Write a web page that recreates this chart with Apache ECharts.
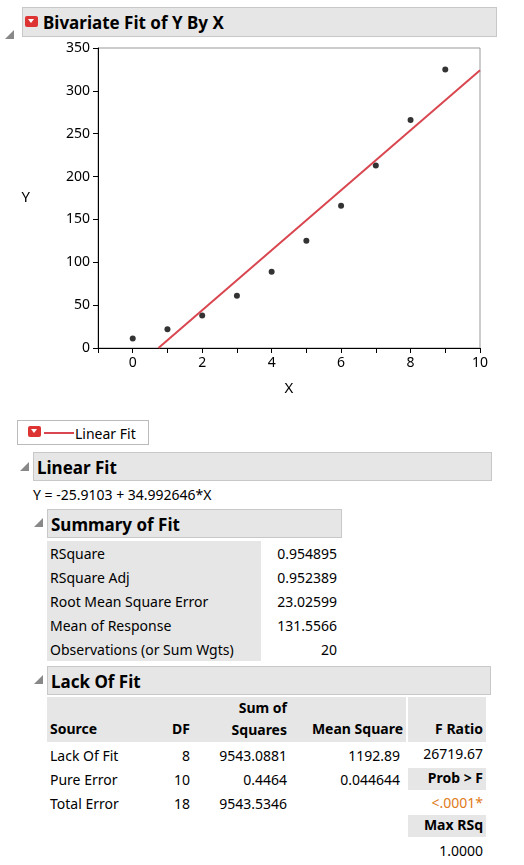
<!DOCTYPE html>
<html><head><meta charset="UTF-8">
<script src="https://cdn.jsdelivr.net/npm/echarts@6/dist/echarts.min.js"></script>
<style>
body{margin:0;background:#fff;font-family:"Noto Sans",sans-serif;font-size:14px;color:#000;}
.a{position:absolute;white-space:nowrap;}
.hdr{position:absolute;background:#e6e6e6;border:1px solid #c8c8c8;font-weight:bold;font-size:17px;box-sizing:border-box;padding:3px 0 0 3px;}
.tri{position:absolute;width:0;height:0;border-left:9px solid transparent;border-bottom:9px solid #888;}
.gray{position:absolute;background:#e6e6e6;}
.r{text-align:right;}
.ic{position:absolute;width:13px;height:11px;background:#d33;border-radius:2px;}
.ic:after{content:"";position:absolute;left:3px;top:3px;border-left:3.5px solid transparent;border-right:3.5px solid transparent;border-top:4px solid #fff;}
</style></head><body>
<div id="main" class="a" style="left:0;top:36px;width:524px;height:370px;"></div>
<script>
var xs = [0, 1, 2, 3, 4, 5, 6, 7, 8, 9];
var ys = [11, 22, 38, 61, 89, 125, 166, 213, 266, 325];
var b0 = -25.9103, b1 = 34.992646;
var fitX = [-b0 / b1, 10];
var yTicks = [0, 50, 100, 150, 200, 250, 300, 350];

var chart = echarts.init(document.getElementById('main'));
chart.setOption({
  animation: false,
  grid: {left: 98, top: 12, width: 382, height: 300},
  xAxis: {type: 'value', min: -1, max: 10, interval: 1, name: 'X', nameLocation: 'middle', nameGap: 33,
    nameTextStyle: {fontSize: 15, color: '#000', fontFamily: 'Noto Sans'},
    axisLine: {show: true, onZero: false, lineStyle: {color: '#000'}},
    axisTick: {lineStyle: {color: '#000'}},
    axisLabel: {color: '#000', fontSize: 14, fontFamily: 'Noto Sans', formatter: function (v) { return v % 2 === 0 ? v : ''; }},
    splitLine: {show: false}},
  yAxis: {type: 'value', min: 0, max: 350, interval: 50, name: 'Y', nameLocation: 'middle', nameRotate: 0, nameGap: 68,
    nameTextStyle: {fontSize: 15, color: '#000', fontFamily: 'Noto Sans', padding: [0, 0, 20, 0]},
    axisLine: {show: true, onZero: false, lineStyle: {color: '#000'}},
    axisTick: {lineStyle: {color: '#000'}},
    axisLabel: {color: '#000', fontSize: 14, fontFamily: 'Noto Sans'},
    splitLine: {show: false}},
  graphic: [{type: 'rect', shape: {x: 98, y: 12, width: 382, height: 300}, style: {fill: 'none', stroke: '#999'}, silent: true}],
  series: [
    {type: 'line', data: fitX.map(function (x) { return [x, b0 + b1 * x]; }), showSymbol: false,
      lineStyle: {color: '#d9464f', width: 2}},
    {type: 'scatter', data: xs.map(function (x, i) { return [x, ys[i]]; }), symbolSize: 6, itemStyle: {color: '#000'}}
  ]
});
</script>

<div class="tri" style="left:5px;top:30px;"></div>
<div class="hdr" style="left:22px;top:7px;width:475px;height:30px;padding-left:20px;">Bivariate Fit of Y By X</div>
<div class="ic" style="left:25px;top:16px;"></div>

<div class="a" style="left:17px;top:420px;width:132px;height:25px;border:1px solid #bbb;box-sizing:border-box;"></div>
<div class="ic" style="left:28px;top:426px;"></div>
<div class="a" style="left:44px;top:432px;width:30px;height:2px;background:#d9464f;"></div>
<div class="a" style="left:75px;top:424px;">Linear Fit</div>

<div class="tri" style="left:20px;top:462px;"></div>
<div class="hdr" style="left:33px;top:452px;width:459px;height:29px;">Linear Fit</div>
<div class="a" style="left:33px;top:485px;">Y = -25.9103 + 34.992646*X</div>

<div class="tri" style="left:34px;top:518px;"></div>
<div class="hdr" style="left:47px;top:509px;width:295px;height:29px;">Summary of Fit</div>
<div class="gray" style="left:47px;top:541px;width:214px;height:120px;"></div>
<div class="a" style="left:50px;top:542px;line-height:24px;">RSquare<br>RSquare Adj<br>Root Mean Square Error<br>Mean of Response<br>Observations (or Sum Wgts)</div>
<div class="a r" style="left:262px;top:542px;width:75px;line-height:24px;">0.954895<br>0.952389<br>23.02599<br>131.5566<br>20</div>

<div class="tri" style="left:34px;top:675px;"></div>
<div class="hdr" style="left:47px;top:666px;width:444px;height:29px;">Lack Of Fit</div>
<div class="gray" style="left:47px;top:697px;width:359px;height:45px;"></div>
<div class="gray" style="left:408px;top:697px;width:78px;height:45px;"></div>
<div class="a" style="left:50px;top:719px;font-weight:bold;">Source</div>
<div class="a r" style="left:150px;top:719px;width:40px;font-weight:bold;">DF</div>
<div class="a r" style="left:200px;top:697px;width:87px;font-weight:bold;line-height:22px;">Sum of<br>Squares</div>
<div class="a r" style="left:290px;top:719px;width:113px;font-weight:bold;">Mean Square</div>
<div class="a r" style="left:408px;top:719px;width:75px;font-weight:bold;">F Ratio</div>
<div class="a" style="left:50px;top:744px;line-height:24px;">Lack Of Fit<br>Pure Error<br>Total Error</div>
<div class="a r" style="left:150px;top:744px;width:40px;line-height:24px;">8<br>10<br>18</div>
<div class="a r" style="left:200px;top:744px;width:87px;line-height:24px;">9543.0881<br>0.4464<br>9543.5346</div>
<div class="a r" style="left:290px;top:744px;width:110px;line-height:24px;">1192.89<br>0.044644</div>
<div class="a r" style="left:408px;top:744px;width:75px;">26719.67</div>
<div class="gray" style="left:408px;top:768px;width:78px;height:22px;"></div>
<div class="a r" style="left:408px;top:768px;width:75px;font-weight:bold;">Prob &gt; F</div>
<div class="a r" style="left:408px;top:793px;width:75px;color:#e07b20;">&lt;.0001*</div>
<div class="gray" style="left:408px;top:815px;width:78px;height:22px;"></div>
<div class="a r" style="left:408px;top:815px;width:75px;font-weight:bold;">Max RSq</div>
<div class="a r" style="left:408px;top:841px;width:75px;">1.0000</div>
</body></html>
